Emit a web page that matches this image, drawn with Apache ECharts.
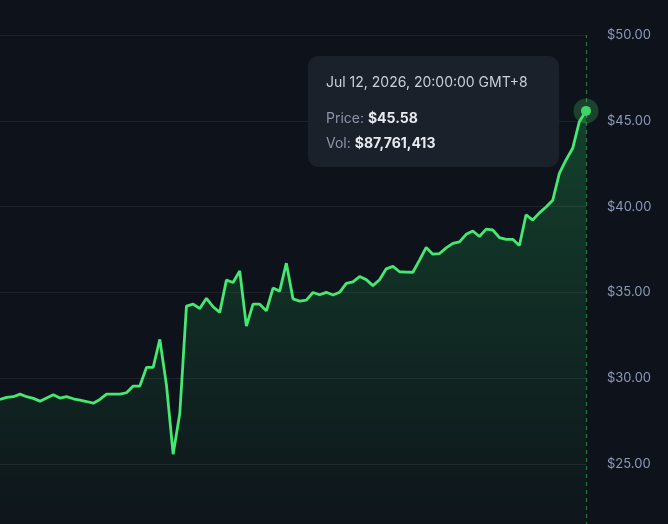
<!DOCTYPE html>
<html>
<head>
<meta charset="utf-8">
<script src="https://cdn.jsdelivr.net/npm/echarts@6/dist/echarts.min.js"></script>
<style>
  html, body { margin: 0; padding: 0; background: #0e121a; }
  #chart { width: 668px; height: 524px; }
</style>
</head>
<body>
<div id="chart"></div>
<script>
// ---- data ----
const startDate = '2026-04-15T12:00:00Z';   // first visible day (UTC)
const prices = [
  28.77, 28.89, 28.93, 29.08, 28.93, 28.83, 28.67, 28.86, 29.04, 28.85,
  28.93, 28.81, 28.73, 28.65, 28.55, 28.77, 29.08, 29.08, 29.08, 29.16,
  29.55, 29.55, 30.64, 30.64, 32.27, 29.60, 25.58, 27.95, 34.21, 34.32,
  34.07, 34.66, 34.17, 33.84, 35.72, 35.58, 36.25, 33.04, 34.32, 34.32,
  33.93, 35.26, 35.08, 36.71, 34.63, 34.50, 34.56, 35.00, 34.87, 35.01,
  34.85, 35.01, 35.53, 35.62, 35.93, 35.75, 35.40, 35.74, 36.38, 36.52,
  36.21, 36.19, 36.18, 36.89, 37.63, 37.23, 37.27, 37.60, 37.86, 37.95,
  38.39, 38.58, 38.26, 38.69, 38.64, 38.20, 38.09, 38.10, 37.74, 39.53,
  39.22, 39.64, 39.98, 40.37, 41.94, 42.72, 43.40, 44.95, 45.58
];
const knownVolumes = { 88: 87761413 };
const yTicks = [20, 25, 30, 35, 40, 45, 50];

// category labels (one per day)
const t0 = Date.parse(startDate);
const dates = prices.map((_, i) => t0 + i * 86400000);

function fmtDate(ts) {
  const d = new Date(ts + 8 * 3600000); // GMT+8
  const mon = ['Jan','Feb','Mar','Apr','May','Jun','Jul','Aug','Sep','Oct','Nov','Dec'][d.getUTCMonth()];
  const p = n => String(n).padStart(2, '0');
  return mon + ' ' + d.getUTCDate() + ', ' + d.getUTCFullYear() + ', ' +
    p(d.getUTCHours()) + ':' + p(d.getUTCMinutes()) + ':' + p(d.getUTCSeconds()) + ' GMT+8';
}

const chart = echarts.init(document.getElementById('chart'), null, { renderer: 'canvas' });
const green = '#3fd467';

chart.setOption({
  backgroundColor: '#0e121a',
  animation: false,
  textStyle: { fontFamily: 'Inter, "Noto Sans", sans-serif' },
  grid: { left: 0, right: 82, top: 35, height: 515, containLabel: false, outerBoundsMode: 'none' },
  xAxis: {
    type: 'category',
    data: dates,
    boundaryGap: false,
    axisLine: { show: false },
    axisTick: { show: false },
    axisLabel: { show: false },
    splitLine: { show: false }
  },
  yAxis: {
    type: 'value',
    position: 'right',
    min: yTicks[0],
    max: yTicks[yTicks.length - 1],
    interval: 5,
    axisLine: { show: false },
    axisTick: { show: false },
    axisLabel: {
      color: '#8d9abb',
      fontSize: 13,
      margin: 21,
      fontFamily: 'Inter, sans-serif',
      formatter: v => '$' + v.toFixed(2)
    },
    splitLine: { lineStyle: { color: 'rgba(255,255,255,0.07)', width: 1 } }
  },
  tooltip: {
    trigger: 'axis',
    alwaysShowContent: true,
    position: [308, 56],
    backgroundColor: '#1b212b',
    borderWidth: 0,
    padding: [14, 18, 14, 18],
    extraCssText: 'border-radius:10px; box-shadow:none; width:215px;',
    textStyle: { color: '#c9d0db', fontFamily: 'Inter, sans-serif' },
    axisPointer: {
      type: 'line',
      lineStyle: { color: 'rgba(63,212,103,0.55)', width: 1, type: [4, 4] },
      label: { show: false }
    },
    formatter: params => {
      const p = params[0];
      const i = p.dataIndex;
      const vol = knownVolumes[i];
      let html = '<div style="font-size:14px;color:#c9d0db;line-height:20px;margin-top:2px;margin-bottom:16px;">' + fmtDate(dates[i]) + '</div>';
      html += '<div style="font-size:14px;line-height:20px;color:#8b95a7;">Price: <b style="color:#e8ebf0;font-weight:700;">$' + prices[i].toFixed(2) + '</b></div>';
      if (vol != null) {
        html += '<div style="font-size:14px;line-height:20px;margin-top:5px;color:#8b95a7;">Vol: <b style="color:#e8ebf0;font-weight:700;">$' + vol.toLocaleString('en-US') + '</b></div>';
      }
      return html;
    }
  },
  series: [{
    type: 'line',
    data: prices,
    showSymbol: false,
    symbol: 'circle',
    symbolSize: 10,
    smooth: false,
    lineStyle: { color: green, width: 2.8 },
    itemStyle: { color: green },
    emphasis: {
      focus: 'none',
      scale: false,
      lineStyle: { width: 2.8 },
      itemStyle: { color: green, borderColor: 'rgba(63,212,103,0.25)', borderWidth: 15 }
    },
    areaStyle: {
      color: new echarts.graphic.LinearGradient(0, 0, 0, 1, [
        { offset: 0, color: 'rgba(34,197,94,0.34)' },
        { offset: 1, color: 'rgba(34,197,94,0.0)' }
      ])
    }
  }]
});

chart.dispatchAction({ type: 'showTip', seriesIndex: 0, dataIndex: prices.length - 1 });
setTimeout(() => chart.dispatchAction({ type: 'showTip', seriesIndex: 0, dataIndex: prices.length - 1 }), 50);
</script>
</body>
</html>
